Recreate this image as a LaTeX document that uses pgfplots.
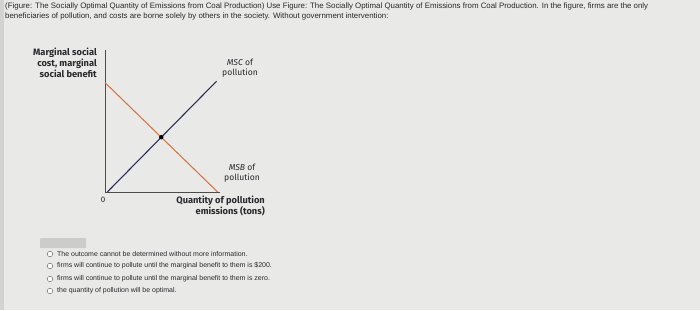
\documentclass[border=0pt]{standalone}
\usepackage{pgfplots}
\pgfplotsset{compat=1.18}
\usepackage{fontspec}
\setmainfont{Liberation Sans}
\newfontfamily\chartfont{Fira Sans}
\definecolor{bgc}{RGB}{233,234,231}
\definecolor{msbc}{RGB}{214,120,70}
\definecolor{mscc}{RGB}{45,45,90}
\definecolor{txt}{RGB}{40,40,45}
\begin{document}
\begin{tikzpicture}[x=1bp,y=1bp]
\fill[bgc] (0,0) rectangle (700,310);
\fill[black!25,opacity=0.5] (0,0) rectangle (4,310);
% header
\node[anchor=north west,inner sep=0pt,font=\fontsize{7.9}{9.5}\selectfont,text=txt,align=left] at (5,307)
 {(Figure: The Socially Optimal Quantity of Emissions from Coal Production) Use Figure: The Socially Optimal Quantity of Emissions from Coal Production. In the figure, firms are the only\\
 beneficiaries of pollution, and costs are borne solely by others in the society. Without government intervention:};
\begin{axis}[
  at={(105bp,118bp)}, anchor=origin,
  scale only axis, width=115bp, height=142bp,
  xmin=0, xmax=10, ymin=0, ymax=10,
  axis x line=bottom, axis y line=left,
  axis line style={-, black!70, line width=0.6pt},
  xtick=\empty, ytick=\empty,
  clip=false,
]
\addplot[msbc, line width=1.1pt] coordinates {(0,7.7) (9.8,0)};
\addplot[mscc, line width=1.1pt] coordinates {(0.2,0) (9.7,7.8)};
\addplot[only marks, mark=*, mark size=2pt, black] coordinates {(4.89,3.86)};
\end{axis}
\begin{scope}[font=\chartfont\bfseries\fontsize{9.3}{11}\selectfont, text=txt]
\node[anchor=north east, inner sep=0pt, align=right] at (97,262) {Marginal social\\cost, marginal\\social benefit};
\node[inner sep=0pt, align=center, font=\chartfont\fontsize{8.6}{10.5}\selectfont] at (240,242) {\textit{MSC} of\\pollution};
\node[inner sep=0pt, align=center, font=\chartfont\fontsize{8.6}{10.5}\selectfont] at (242,137) {\textit{MSB} of\\pollution};
\node[inner sep=0pt, font=\chartfont\fontsize{8}{9}\selectfont] at (103,110) {0};
\node[anchor=north east, inner sep=0pt, align=right] at (265,114) {Quantity of pollution\\emissions (tons)};
\end{scope}
% answer options
\fill[black!20, rounded corners=1pt] (40,62) rectangle (86,72);
\begin{scope}[font=\fontsize{7}{8}\selectfont, text=txt]
\foreach \yy/\tx in {56/{The outcome cannot be determined without more information.},
                     44/{firms will continue to pollute until the marginal benefit to them is \$200.},
                     31/{firms will continue to pollute until the marginal benefit to them is zero.},
                     19/{the quantity of pollution will be optimal.}}{
  \draw[black!55, line width=0.5pt, fill=white] (50,\yy) circle (2.8);
  \node[anchor=west, inner sep=0pt] at (57,\yy) {\tx};
}
\end{scope}
\end{tikzpicture}
\end{document}
